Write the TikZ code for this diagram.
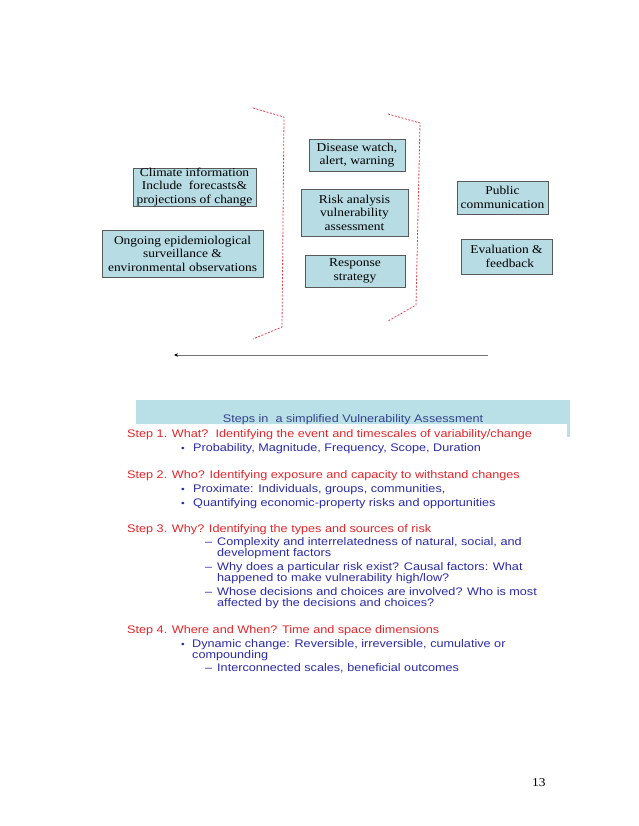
\documentclass[tikz,border=0pt]{standalone}
\usepackage{fontspec}
\setmainfont[FakeStretch=1.12]{Liberation Serif}
\newfontfamily\arialf[FakeStretch=1.15]{Liberation Sans}
\usetikzlibrary{arrows.meta}
\definecolor{boxfill}{HTML}{B7DCE4}
\definecolor{bandfill}{HTML}{B9DFE7}
\definecolor{stepred}{HTML}{E3262B}
\definecolor{itemblue}{HTML}{2B2BA6}
\definecolor{titleblue}{HTML}{34448C}
\definecolor{brk}{HTML}{E2404E}
\tikzset{
  sbox/.style={draw=black!65, line width=0.6pt, fill=boxfill, align=center, inner sep=0pt,
    font=\fontsize{12}{13.5}\selectfont},
  brack/.style={draw=brk, line width=0.8pt, dash pattern=on 2pt off 1.5pt},
  stepline/.style={anchor=base west, inner sep=0pt, text=stepred, font=\arialf\fontsize{11}{11}\selectfont},
  itemline/.style={anchor=base west, inner sep=0pt, text=itemblue, font=\arialf\fontsize{11}{11}\selectfont},
  mark1/.style={anchor=base west, inner sep=0pt, text=itemblue, font=\arialf\fontsize{9}{11}\selectfont},
}
\begin{document}
\begin{tikzpicture}[x=1pt,y=-1pt]
\useasboundingbox[fill=white] (0,0) rectangle (638,826);

% boxes
\node[sbox, minimum width=123pt, minimum height=38pt] (climate) at (194.5,187) {Climate information\\Include\ \ forecasts\&\\projections of change};
\node[sbox, minimum width=161pt, minimum height=47pt] (ongoing) at (182.5,253.5) {Ongoing epidemiological\\surveillance \&\\environmental observations};
\node[sbox, minimum width=96pt, minimum height=32pt] (disease) at (357,155) {Disease watch,\\alert, warning};
\node[sbox, minimum width=107pt, minimum height=47pt] (risk) at (354.5,212.5) {Risk analysis\\vulnerability\\assessment};
\node[sbox, minimum width=100pt, minimum height=32pt] (response) at (355,271) {Response\\strategy};
\node[sbox, minimum width=91pt, minimum height=33pt] (public) at (502.5,197.5) {Public\\communication};
\node[sbox, minimum width=91pt, minimum height=35pt] (eval) at (506.5,256.5) {Evaluation \&\\\ \ feedback};

% brackets
\draw[brack] (253,108) -- (284,117) -- (282,327) -- (253,339);
\draw[brack] (388,114) -- (420,123) -- (416,305) -- (388,321);

% arrow
\coordinate (arrS) at (488,355);
\coordinate (arrE) at (174,355);
\draw[black!55, line width=0.9pt, -{Stealth[length=4pt,width=3.5pt,black]}] (arrS) -- (arrE);

% title band
\fill[bandfill] (136,400) rectangle (570,437);
\fill[white] (120,424) rectangle (567,438);
\node[anchor=base, inner sep=0pt, text=titleblue, font=\arialf\fontsize{11}{11}\selectfont] (title) at (353,422) {Steps in\ \ a simplified Vulnerability Assessment};

% steps
\node[stepline] (s1) at (127,437) {Step 1. What?\ \ Identifying the event and timescales of variability/change};
\node[mark1] (m11) at (181,451) {•};
\node[itemline] (i11) at (193,451) {Probability, Magnitude, Frequency, Scope, Duration};

\node[stepline] (s2) at (127,478) {Step 2. Who? Identifying exposure and capacity to withstand changes};
\node[mark1] (m21) at (181,492) {•};
\node[itemline] (i21) at (193,492) {Proximate: Individuals, groups, communities,};
\node[mark1] (m22) at (181,506) {•};
\node[itemline] (i22) at (193,506) {Quantifying economic-property risks and opportunities};

\node[stepline] (s3) at (127,532) {Step 3. Why? Identifying the types and sources of risk};
\node[itemline] (m31) at (205,545) {–};
\node[itemline] (i31a) at (217,545) {Complexity and interrelatedness of natural, social, and};
\node[itemline] (i31b) at (217,556) {development factors};
\node[itemline] (m32) at (205,570) {–};
\node[itemline] (i32a) at (217,570) {Why does a particular risk exist? Causal factors: What};
\node[itemline] (i32b) at (217,581) {happened to make vulnerability high/low?};
\node[itemline] (m33) at (205,595) {–};
\node[itemline] (i33a) at (217,595) {Whose decisions and choices are involved? Who is most};
\node[itemline] (i33b) at (217,606) {affected by the decisions and choices?};

\node[stepline] (s4) at (127,633) {Step 4. Where and When? Time and space dimensions};
\node[mark1] (m41) at (181,647) {•};
\node[itemline] (i41a) at (192,647) {Dynamic change: Reversible, irreversible, cumulative or};
\node[itemline] (i41b) at (192,658) {compounding};
\node[itemline] (m42) at (205,671) {–};
\node[itemline] (i42) at (217,671) {Interconnected scales, beneficial outcomes};

% page number
\node[anchor=base west, inner sep=0pt, font=\fontsize{12}{12}\selectfont] (pnum) at (532,786) {13};
\end{tikzpicture}
\end{document}
